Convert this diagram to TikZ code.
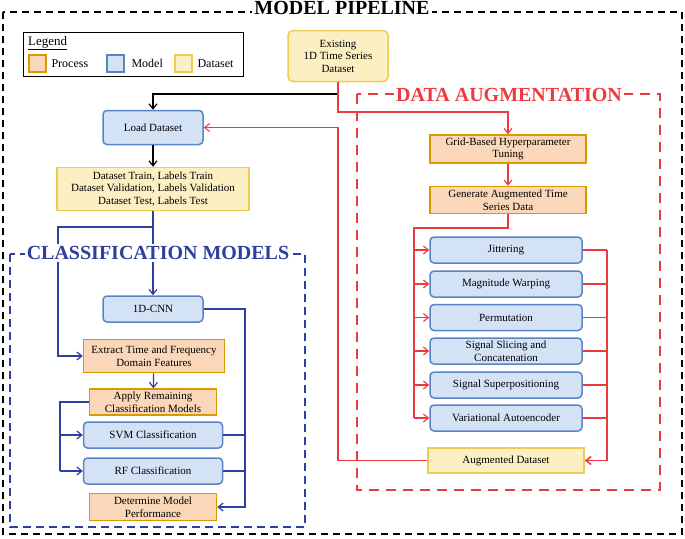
\documentclass[tikz,border=0pt]{standalone}
\usepackage{fontspec}
\setmainfont{Liberation Serif}
\usetikzlibrary{arrows.meta}
\definecolor{pF}{HTML}{FAD7B8}\definecolor{pD}{HTML}{D79B00}
\definecolor{mF}{HTML}{D4E2F6}\definecolor{mD}{HTML}{5B84C4}
\definecolor{dF}{HTML}{FCEFC2}\definecolor{dD}{HTML}{EDCB55}
\definecolor{cB}{HTML}{2E3F9F}\definecolor{cR}{HTML}{EC3B3F}
\tikzset{
 box/.style={draw,line width=1.5pt,align=center,font=\fontsize{11}{12.5}\selectfont,inner sep=1pt},
 proc/.style={box,fill=pF,draw=pD},
 model/.style={box,fill=mF,draw=mD,rounded corners=4pt},
 data/.style={box,fill=dF,draw=dD},
 blk/.style={line width=1.2pt,-{Straight Barb[length=5pt,width=8pt]}},
 bl/.style={draw=cB,line width=1.2pt,-{Straight Barb[length=5pt,width=8pt]}},
 rd/.style={draw=cR,line width=1.1pt,-{Straight Barb[length=5pt,width=8pt]}},
 ttl/.style={font=\fontsize{20}{20}\selectfont\bfseries,fill=white,inner sep=2pt},
}
\begin{document}
\begin{tikzpicture}[x=1pt,y=-1pt]
\useasboundingbox (0,0) rectangle (685,538);
% frames
\draw[line width=2pt,dash pattern=on 7pt off 5pt] (3,12) rectangle (682,534);
\node[ttl] at (342,8) {MODEL PIPELINE};
\draw[cR,line width=2pt,dash pattern=on 10pt off 7pt] (357,94) rectangle (660,490);
\draw[cB,line width=2pt,dash pattern=on 8pt off 5pt] (10,254) rectangle (305,527);
% legend
\draw[line width=0.8pt] (23,32) rectangle (243,76);
\node[font=\fontsize{13}{14}\selectfont,anchor=west,inner sep=0pt] at (28,43) {\underline{Legend}};
\draw[pD,fill=pF,line width=1.5pt] (29,55) rectangle (46,72);
\node[font=\fontsize{12}{13}\selectfont,anchor=west] at (48,63.5) {Process};
\draw[mD,fill=mF,line width=1.5pt] (107,55) rectangle (124,72);
\node[font=\fontsize{12}{13}\selectfont,anchor=west] at (128,63.5) {Model};
\draw[dD,fill=dF,line width=1.5pt] (175,55) rectangle (192,72);
\node[font=\fontsize{12}{13}\selectfont,anchor=west] at (194,63.5) {Dataset};
% nodes
\node[data,rounded corners=5pt,minimum width=100pt,minimum height=51pt] (ex) at (338,56) {Existing\\1D Time Series\\Dataset};
\node[model,minimum width=100pt,minimum height=34pt] (load) at (153,127.5) {Load Dataset};
\node[data,minimum width=192pt,minimum height=43pt] (split) at (153,189) {Dataset Train, Labels Train\\Dataset Validation, Labels Validation\\Dataset Test, Labels Test};
\node[model,minimum width=100pt,minimum height=26pt] (cnn) at (153,309) {1D-CNN};
\node[proc,minimum width=141pt,minimum height=33pt] (ext) at (154,356) {Extract Time and Frequency\\Domain Features};
\node[proc,minimum width=127pt,minimum height=26pt] (app) at (153,402) {Apply Remaining\\Classification Models};
\node[model,minimum width=139pt,minimum height=26pt] (svm) at (153,435) {SVM Classification};
\node[model,minimum width=139pt,minimum height=26pt] (rf) at (153,471) {RF Classification};
\node[proc,minimum width=127pt,minimum height=27pt] (det) at (153,507) {Determine Model\\Performance};
\node[proc,minimum width=156pt,minimum height=28pt] (grid) at (508,149) {Grid-Based Hyperparameter\\Tuning};
\node[proc,minimum width=156pt,minimum height=27pt] (gen) at (508,200) {Generate Augmented Time\\Series Data};
\node[model,minimum width=152pt,minimum height=26pt] (t1) at (506,250) {Jittering};
\node[model,minimum width=152pt,minimum height=26pt] (t2) at (506,284) {Magnitude Warping};
\node[model,minimum width=152pt,minimum height=26pt] (t3) at (506,317.5) {Permutation};
\node[model,minimum width=152pt,minimum height=26pt] (t4) at (506,351) {Signal Slicing and\\Concatenation};
\node[model,minimum width=152pt,minimum height=26pt] (t5) at (506,385) {Signal Superpositioning};
\node[model,minimum width=152pt,minimum height=26pt] (t6) at (506,418) {Variational Autoencoder};
\node[data,minimum width=156pt,minimum height=25pt] (aug) at (506,460.5) {Augmented Dataset};
% black
\draw[blk] (ex.south) |- (153,94) -- (load.north);
\draw[blk] (load) -- (split);
% classification
\draw[bl,-] (split.south) -- (153,227) -- (58,227) -- (58,237);
\draw[bl] (153,227) -- (cnn.north);
\draw[bl] (58,237) |- (ext.west);
\node[ttl,text=cB] at (158,253) {CLASSIFICATION MODELS};
\draw[bl] (ext) -- (app);
\draw[bl,-] (app.west) -- (60,402) -- (60,471);
\draw[bl] (60,435) -- (svm.west);
\draw[bl] (60,471) -- (rf.west);
\draw[bl] (cnn.east) -- (245,309) |- (det.east);
\draw[bl,-] (svm.east) -- (245,435);
\draw[bl,-] (rf.east) -- (245,471);
% red
\node[ttl,text=cR] at (509,95) {DATA AUGMENTATION};
\draw[rd] (ex.south) -- (338,112) -| (grid.north);
\draw[rd] (grid) -- (gen);
\draw[rd,-] (gen.south) -- (508,228) -- (414,228) -- (414,418);
\foreach \t in {t1,t2,t3,t4,t5,t6}{\draw[rd] (414,0 |- \t.west) -- (\t.west);}
\draw[rd,-] (t1.east) -- (607,250);
\foreach \t in {t2,t3,t4,t5,t6}{\draw[rd,-] (\t.east) -- (607,0 |- \t.east);}
\draw[rd,line width=1.6pt] (607,250) |- (aug.east);
\draw[rd] (aug.west) -- (338,460.5) |- (load.east);
\end{tikzpicture}
\end{document}
